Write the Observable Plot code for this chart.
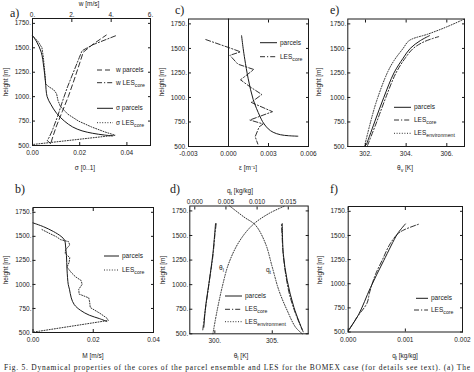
<!DOCTYPE html>
<html><head><meta charset="utf-8">
<script src="https://cdn.jsdelivr.net/npm/d3@7"></script>
<script src="https://cdn.jsdelivr.net/npm/@observablehq/plot@0.6"></script>
<style>
html,body{margin:0;padding:0;background:#fff;}
#chart{position:relative;width:474px;height:372px;overflow:hidden;background:#fff;}
#chart svg{position:absolute;left:0;top:0;}
</style></head><body><div id="chart"></div>
<script>
// ---------- data ----------
const heightTicks = [500, 750, 1000, 1250, 1500, 1750];
const heightDomain = [500, 1800];

// a) sigma (bottom) and w (top)
const sigmaDomain = [0, 0.05];
const wDomain = [0, 6];
const sigmaTicks = [0, 0.02, 0.04];
const wTicks = [0, 2, 4, 6];
// [height, value]
const sigmaParcels = [[1625,0],[1560,0.0018],[1455,0.0037],[1300,0.0048],[1150,0.0055],[1000,0.0062],[920,0.0078],[830,0.0102],[750,0.0135],[690,0.0170],[650,0.0210],[625,0.0255],[607,0.0305],[598,0.0340]];
const sigmaLES = [[1625,0],[1560,0.0025],[1500,0.0040],[1400,0.0046],[1250,0.0052],[1130,0.0056],[1100,0.0070],[1070,0.0090],[1030,0.0102],[960,0.0108],[900,0.0118],[820,0.0150],[750,0.0195],[690,0.0250],[640,0.0305],[605,0.0350],[510,0]];
const wParcels = [[535,0.95],[600,1.05],[700,1.22],[850,1.52],[1000,1.82],[1150,2.08],[1300,2.33],[1455,2.58],[1540,3.1],[1630,3.75]];
const wLES = [[520,0.92],[550,0.75],[585,0.85],[650,1.0],[800,1.28],[950,1.52],[1100,1.78],[1250,2.08],[1400,2.38],[1470,2.52],[1530,3.05],[1625,4.25]];

// b) mass flux M
const mDomain = [0, 0.04];
const mTicks = [0, 0.02, 0.04];
const mParcels = [[1640,0],[1600,0.0035],[1550,0.0068],[1500,0.0093],[1460,0.0105],[1400,0.0108],[1300,0.0111],[1150,0.0113],[1000,0.0117],[950,0.0121],[860,0.0127],[790,0.0137],[730,0.0158],[680,0.0187],[645,0.0220],[615,0.0245]];
const mLES = [[1570,0.003],[1535,0.0052],[1495,0.0078],[1465,0.0092],[1445,0.0118],[1410,0.0122],[1360,0.0108],[1320,0.0107],[1280,0.0122],[1230,0.0120],[1180,0.0113],[1120,0.0128],[1080,0.0141],[1040,0.0160],[1000,0.0163],[950,0.0152],[900,0.0153],[860,0.0185],[820,0.0188],[760,0.0190],[700,0.0222],[650,0.0245],[625,0.0250],[505,0.0003]];

// c) entrainment epsilon
const epsDomain = [-0.003, 0.006];
const epsTicks = [-0.003, 0, 0.003, 0.006];
const epsParcels = [[1630,0.00098],[1500,0.0011],[1390,0.00122],[1190,0.00148],[980,0.00185],[810,0.00235],[740,0.00262],[680,0.00298],[645,0.00335],[620,0.0039],[610,0.0045],[605,0.0052]];
const epsLES = [[1590,-0.0017],[1500,0.0002],[1465,0.0009],[1430,0.0001],[1340,0.0007],[1285,0.0019],[1180,0.0009],[1110,0.0016],[1030,0.0025],[950,0.0017],[855,0.0033],[770,0.0016],[730,0.0026],[700,0.0023],[600,0.0020],[525,0.0022]];

// d) theta_l (bottom) and q_t (top)
const thetaLDomain = [297.82, 308.13];
const qtDomain = [-0.0008, 0.0182];
const thetaLTicks = [300, 305];
const qtTicks = [0, 0.005, 0.010, 0.015];
const thetaLParcels = [[567,299.04],[771,299.19],[1008,299.48],[1315,299.83],[1621,300.06]];
const thetaLLES = [[540,298.95],[700,299.12],[900,299.36],[1100,299.6],[1300,299.84],[1500,300.0],[1620,300.12]];
const thetaLEnv = [[500,299.83],[737,300.2],[975,300.64],[1213,301.2],[1434,302.1],[1604,303.26],[1723,304.7],[1800,306.1]];
const qtParcels = [[541,0.01725],[771,0.0159],[1043,0.01483],[1315,0.0142],[1621,0.01404]];
const qtLES = [[520,0.0174],[700,0.0162],[900,0.0152],[1100,0.0146],[1300,0.0142],[1500,0.0140],[1625,0.0139]];
const qtEnv = [[500,0.01725],[567,0.01617],[737,0.01483],[941,0.0135],[1179,0.01243],[1417,0.01135],[1604,0.00975],[1689,0.00787],[1800,0.0056]];

// e) theta_v
const thetaVDomain = [301.13, 306.87];
const thetaVTicks = [302, 304, 306];
const thetaVParcels = [[520,302.05],[750,302.45],[1000,302.9],[1250,303.4],[1400,303.85],[1500,304.2],[1580,304.7],[1630,305.15]];
const thetaVLES = [[510,302.1],[750,302.55],[1000,303.0],[1250,303.5],[1400,303.95],[1500,304.35],[1570,304.9],[1620,305.6]];
const thetaVEnv = [[500,301.95],[750,302.25],[966,302.55],[1250,303.07],[1375,303.4],[1500,303.85],[1580,304.15],[1648,305.1],[1720,306.0],[1800,306.87]];

// f) q_l
const qlDomain = [0, 0.002];
const qlTicks = [0, 0.001, 0.002];
const qlParcels = [[510,0],[684,0.000185],[960,0.00039],[1238,0.00062],[1515,0.00086],[1570,0.00093],[1619,0.001]];
const qlLES = [[530,0.00002],[650,0.00015],[800,0.00033],[900,0.00037],[1000,0.00042],[1100,0.00048],[1250,0.0006],[1400,0.00072],[1500,0.00084],[1550,0.00095],[1620,0.00125]];

// ---------- rendering ----------
const W = 474, H = 372;
const SANS = "'Liberation Sans', Arial, Helvetica, sans-serif";
const SERIF = "'Liberation Serif', 'Times New Roman', serif";
const INK = "#1a1a1a";
const STYLES = {
  solid: {strokeWidth: 1},
  dashed: {strokeWidth: 0.9, strokeDasharray: "5,3"},
  dashdot: {strokeWidth: 0.9, strokeDasharray: "5,2,1.2,2"},
  dotted: {strokeWidth: 0.9, strokeDasharray: "1,1.6"}
};
const lin = (from, to) => d3.scaleLinear().domain(from).range(to);

function curve(data, style, map = v => v, smooth = true) {
  return Plot.line(data, {x: d => map(d[1]), y: d => d[0], stroke: INK, ...STYLES[style], curve: smooth ? "catmull-rom" : "linear"});
}

function panel({L, R, T, B, xDomain, bottomTicks, bottomFormat, topTicks, topFormat, marks}) {
  const tk = {tickSize: 3, tickFormat: () => "", label: null};
  const axes = [
    Plot.axisX({...tk, ticks: bottomTicks, anchor: "bottom", dy: -3}),
    Plot.axisX({...tk, ticks: topTicks || bottomTicks, anchor: "top", dy: 3}),
    Plot.axisY({...tk, ticks: heightTicks, anchor: "left", dx: 3}),
    Plot.axisY({...tk, ticks: heightTicks, anchor: "right", dx: -3}),
    Plot.axisX({ticks: bottomTicks, anchor: "bottom", tickSize: 0, tickPadding: 5, tickFormat: bottomFormat, label: null}),
    Plot.axisY({ticks: heightTicks, anchor: "left", tickSize: 0, tickPadding: 1.5, tickFormat: d => d + ".", label: null})
  ];
  if (topFormat) axes.push(Plot.axisX({ticks: topTicks, anchor: "top", tickSize: 0, tickPadding: 2, tickFormat: topFormat, label: null}));
  return Plot.plot({
    width: W, height: H,
    marginLeft: L, marginRight: W - R, marginTop: T, marginBottom: H - B,
    x: {domain: xDomain},
    y: {domain: heightDomain},
    style: {background: "transparent", fontFamily: SANS, fontSize: "6.5px", color: INK, overflow: "visible"},
    marks: [...marks, Plot.frame({stroke: INK, strokeWidth: 1}), ...axes]
  });
}

const chart = document.getElementById("chart");
const wToSigma = lin(wDomain, sigmaDomain);
const qtToTheta = lin(qtDomain, thetaLDomain);

chart.append(panel({L: 32, R: 150, T: 18, B: 145, xDomain: sigmaDomain,
  bottomTicks: sigmaTicks, bottomFormat: d => d.toFixed(2),
  topTicks: wTicks.map(wToSigma), topFormat: (d, i) => wTicks[i] + ".",
  marks: [curve(sigmaParcels, "solid"), curve(sigmaLES, "dotted", v => v, false),
          curve(wParcels, "dashed", wToSigma, false), curve(wLES, "dashdot", wToSigma, false)]}));

chart.append(panel({L: 32.5, R: 153, T: 207, B: 332, xDomain: mDomain,
  bottomTicks: mTicks, bottomFormat: d => d.toFixed(2),
  marks: [curve(mParcels, "solid"), curve(mLES, "dotted", v => v, false)]}));

chart.append(panel({L: 188, R: 308, T: 18.5, B: 146, xDomain: epsDomain,
  bottomTicks: epsTicks, bottomFormat: d => d.toFixed(3),
  marks: [Plot.ruleX([0], {stroke: INK, strokeWidth: 1}),
          curve(epsParcels, "solid"), curve(epsLES, "dashdot", v => v, false)]}));

chart.append(panel({L: 189.3, R: 307.7, T: 205.5, B: 333.3, xDomain: thetaLDomain,
  bottomTicks: thetaLTicks, bottomFormat: d => d + ".",
  topTicks: qtTicks.map(qtToTheta), topFormat: (d, i) => qtTicks[i].toFixed(3),
  marks: [curve(thetaLEnv, "dotted"), curve(qtEnv, "dotted", qtToTheta),
          curve(thetaLLES, "dashdot"), curve(thetaLParcels, "solid"),
          curve(qtLES, "dashdot", qtToTheta), curve(qtParcels, "solid", qtToTheta)]}));

chart.append(panel({L: 347.3, R: 464, T: 18.5, B: 146, xDomain: thetaVDomain,
  bottomTicks: thetaVTicks, bottomFormat: d => d + ".",
  marks: [curve(thetaVEnv, "dotted"), curve(thetaVLES, "dashdot"), curve(thetaVParcels, "solid")]}));

chart.append(panel({L: 347.7, R: 462, T: 206, B: 331.5, xDomain: qlDomain,
  bottomTicks: qlTicks, bottomFormat: d => d.toFixed(3),
  marks: [curve(qlLES, "dashdot"), curve(qlParcels, "solid")]}));

// ---------- annotations: letters, titles, legends, caption ----------
const svg = d3.select(chart).append("svg").attr("width", W).attr("height", H)
  .style("font-family", SANS).style("font-size", "6.5px").attr("fill", INK);

function label(x, y, parts, {anchor = "start", size = 6.5, rotate = 0, family = SANS} = {}) {
  const t = svg.append("text").attr("text-anchor", anchor).attr("font-size", size)
    .attr("font-family", family).attr("dominant-baseline", "middle")
    .attr("transform", `translate(${x},${y}) rotate(${rotate})`);
  for (const p of parts) {
    if (typeof p === "string") t.append("tspan").text(p);
    else t.append("tspan").attr("baseline-shift", "sub").attr("font-size", size * 0.8).text(p.sub);
  }
  return t;
}
function legend(x0, x1, y, style, parts) {
  const s = STYLES[style];
  svg.append("line").attr("x1", x0).attr("x2", x1).attr("y1", y).attr("y2", y)
    .attr("stroke", INK).attr("stroke-width", s.strokeWidth).attr("stroke-dasharray", s.strokeDasharray || null);
  label(x1 + 3, y, parts);
}

// panel letters
[["a)", 10, 16.5], ["c)", 175, 13.5], ["e)", 330, 13.5], ["b)", 15, 193], ["d)", 170, 192.7], ["f)", 330, 193]]
  .forEach(([t, x, y]) => svg.append("text").attr("x", x).attr("y", y).attr("font-family", SERIF).attr("font-size", 12).text(t));

// height labels
[[6, 82], [6, 270], [162, 82], [163, 270], [319, 82], [320, 270]]
  .forEach(([x, y]) => label(x, y, ["height [m]"], {anchor: "middle", rotate: -90}));

// axis titles
label(89, 3.5, ["w [m/s]"], {anchor: "middle"});
label(85, 168, ["σ [0..1]"], {anchor: "middle"});
label(248, 168, ["ε [m", "⁻¹", "]"], {anchor: "middle"});
label(405, 168, ["θ", {sub: "v"}, " [K]"], {anchor: "middle"});
label(93, 356, ["M [m/s]"], {anchor: "middle"});
label(241, 356, ["θ", {sub: "l"}, " [K]"], {anchor: "middle"});
label(405, 356, ["q", {sub: "l"}, " [kg/kg]"], {anchor: "middle"});
label(240, 190.5, ["q", {sub: "t"}, " [kg/kg]"], {anchor: "middle"});
label(221.5, 268, ["θ", {sub: "l"}], {anchor: "middle"});
label(268.5, 270, ["q", {sub: "t"}], {anchor: "middle"});

// legends
legend(97, 113, 70, "dashed", ["w parcels"]);
legend(97, 113, 82.7, "dashdot", ["w LES", {sub: "core"}]);
legend(97, 113, 108.3, "solid", ["σ parcels"]);
legend(97, 113, 122.7, "dotted", ["σ LES", {sub: "core"}]);

legend(104, 119, 256, "solid", ["parcels"]);
legend(104, 119, 270, "dotted", ["LES", {sub: "core"}]);

legend(260, 277, 42.7, "solid", ["parcels"]);
legend(260, 277, 56.7, "dashdot", ["LES", {sub: "core"}]);

legend(225, 242, 296, "solid", ["parcels"]);
legend(225, 242, 309.3, "dashdot", ["LES", {sub: "core"}]);
legend(225, 242, 321.7, "dotted", ["LES", {sub: "environment"}]);

legend(394, 411, 107.3, "solid", ["parcels"]);
legend(394, 411, 120, "dashdot", ["LES", {sub: "core"}]);
legend(394, 411, 133.3, "dotted", ["LES", {sub: "environment"}]);

legend(416, 428, 298.3, "solid", ["parcels"]);
legend(414, 428, 310, "dashdot", ["LES", {sub: "core"}]);

// caption at the foot of the figure
svg.append("text").attr("x", 4).attr("y", 369.5).attr("font-family", SERIF).attr("font-size", 7.5)
  .attr("textLength", 466).attr("lengthAdjust", "spacing")
  .text("Fig. 5. Dynamical properties of the cores of the parcel ensemble and LES for the BOMEX case (for details see text). (a) The");
</script>
</body></html>
